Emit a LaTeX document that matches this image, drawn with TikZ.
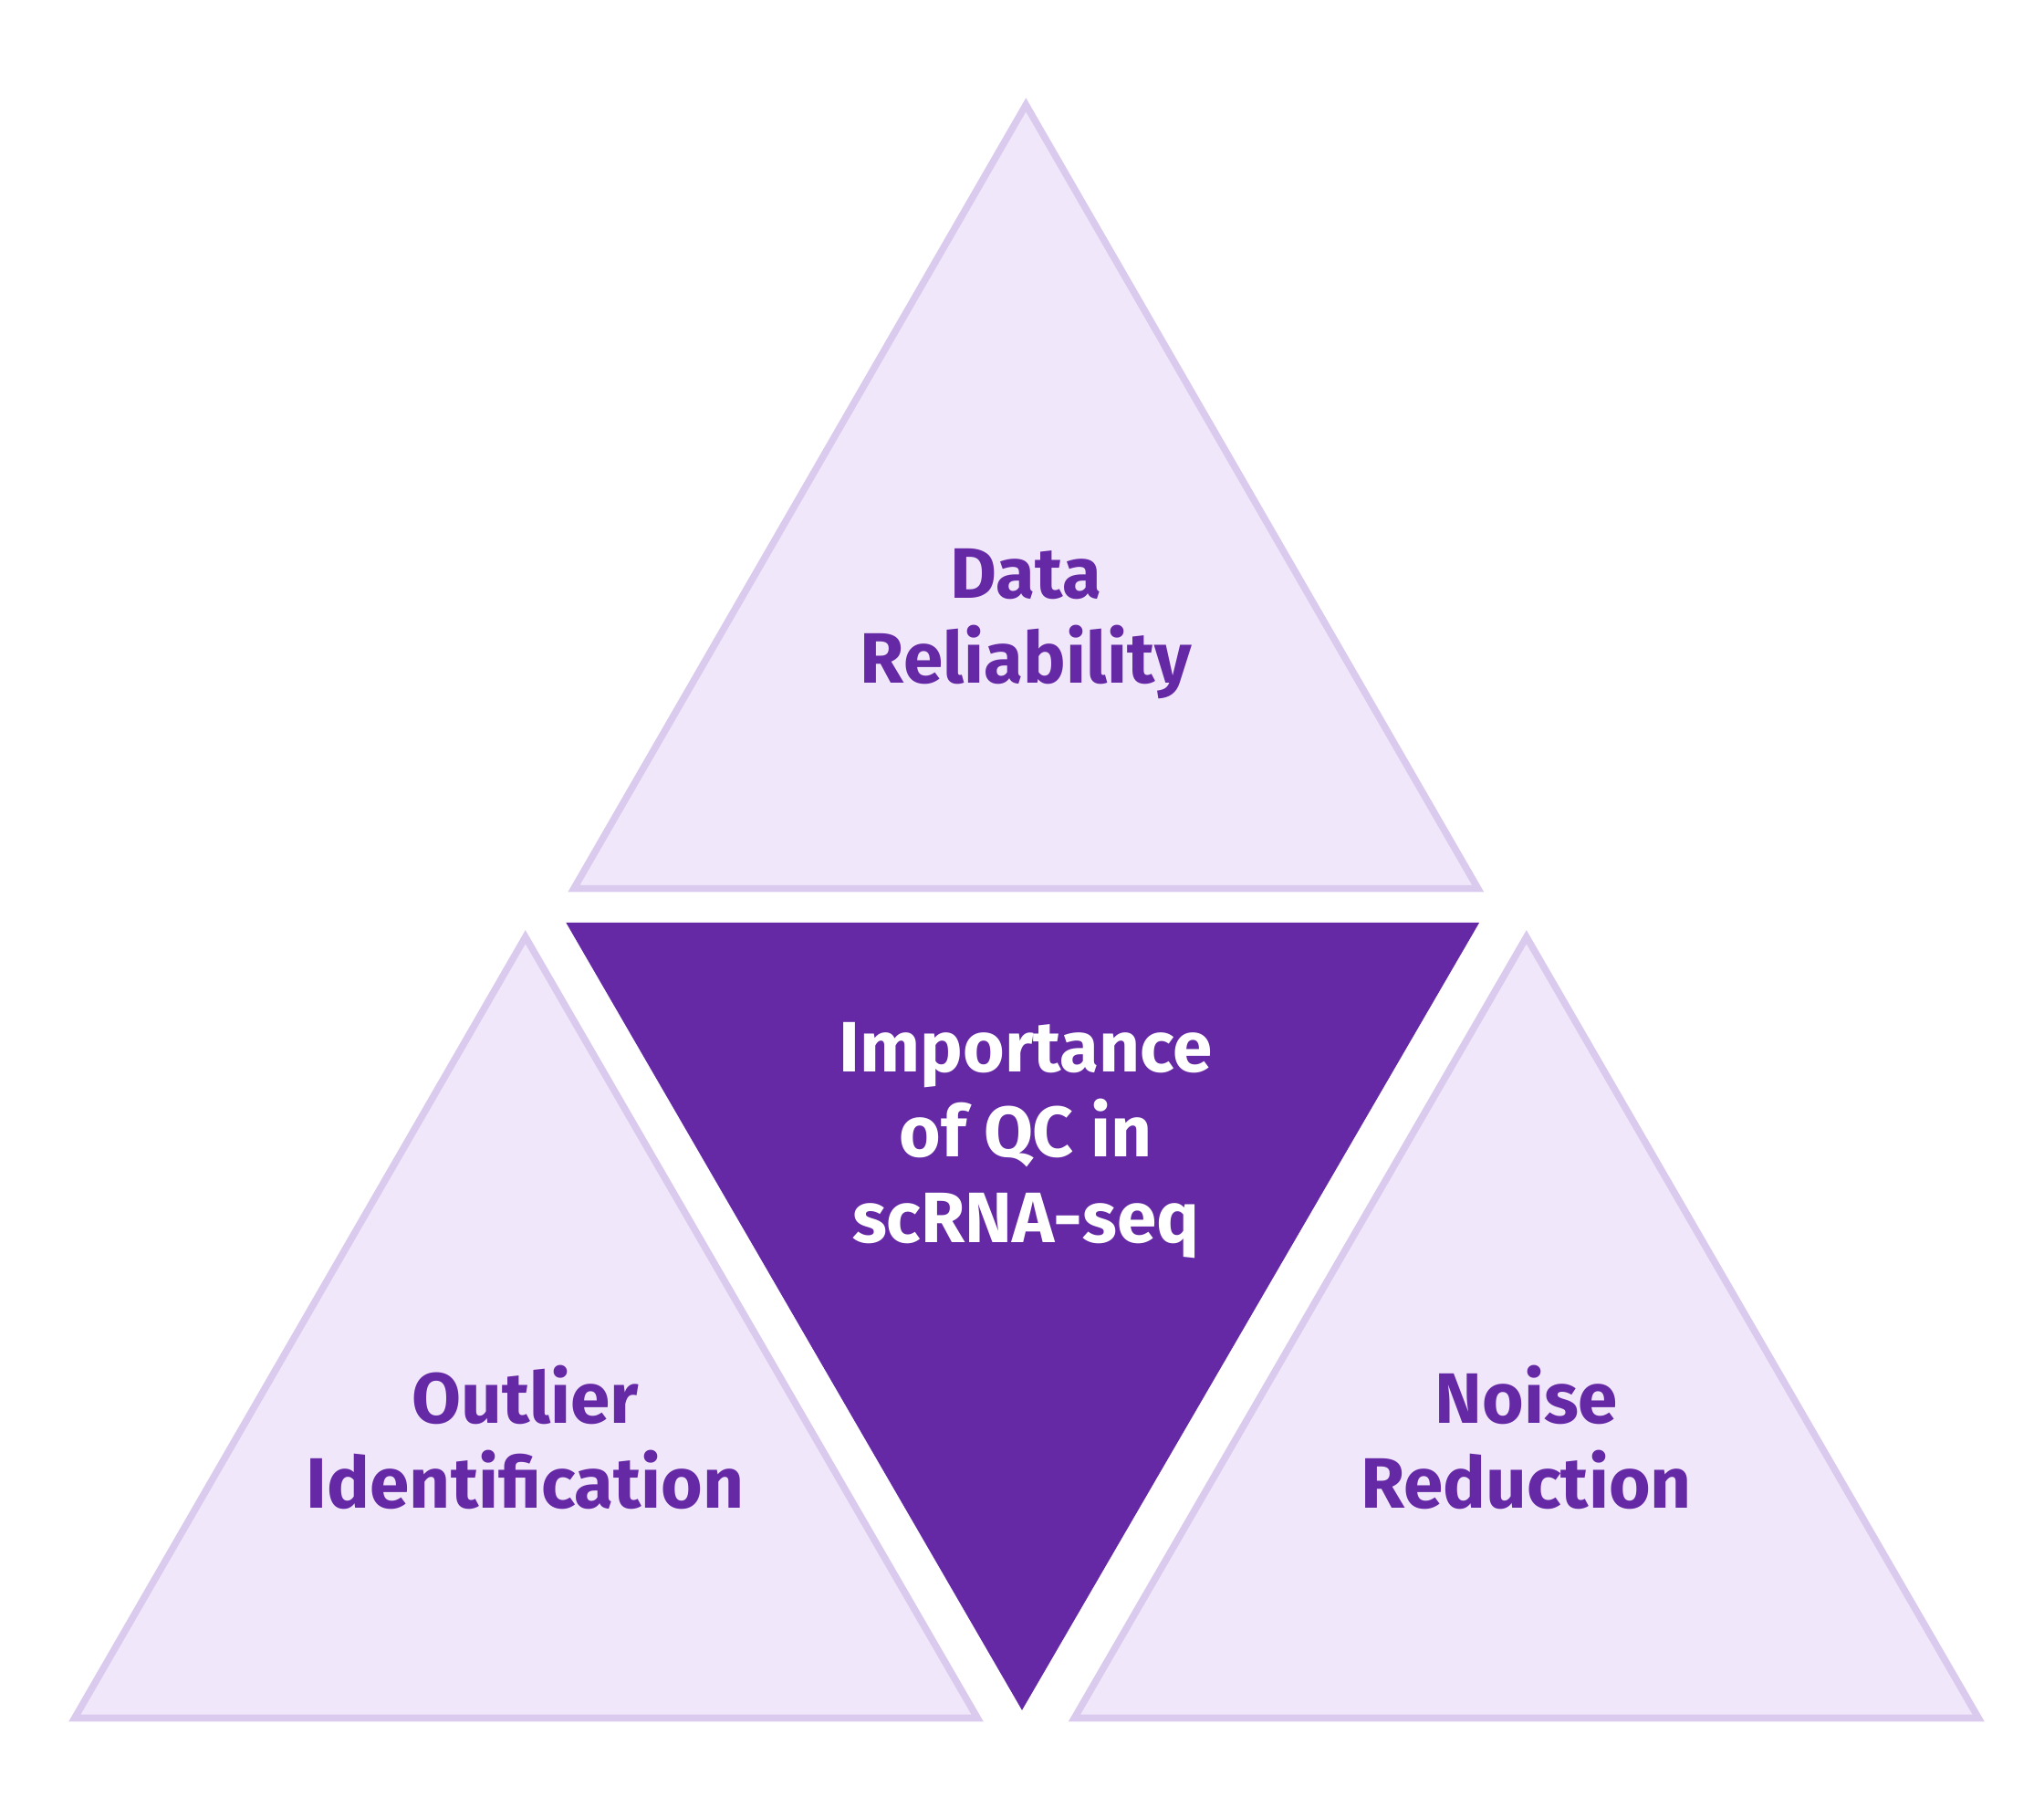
\documentclass[tikz,border=0pt]{standalone}
\usepackage{fontspec}
\setmainfont{Fira Sans}
\definecolor{lightfill}{HTML}{F0E7FB}
\definecolor{lightline}{HTML}{DACBEE}
\definecolor{deeppurple}{HTML}{6629A5}
\tikzset{
  side/.style={fill=lightfill,draw=lightline,line width=3pt,line join=miter},
  core/.style={fill=deeppurple,draw=none},
  label/.style={align=center,font=\fontsize{31}{37}\selectfont\bfseries,text=deeppurple},
}
\begin{document}
\begin{tikzpicture}
[x=0.02cm,y=-0.02cm]
\useasboundingbox (0,0) rectangle (1560,1387);
% corners
\coordinate (ta) at (783,80);
\coordinate (tl) at (438,678);
\coordinate (tr) at (1128,678);
\coordinate (cl) at (432,704);
\coordinate (cr) at (1129,704);
\coordinate (cb) at (780,1305);
\coordinate (la) at (401,715);
\coordinate (ll) at (57,1311);
\coordinate (lr) at (746,1311);
\coordinate (ra) at (1165,715);
\coordinate (rl) at (820,1311);
\coordinate (rr) at (1510,1311);
% triangles
\draw[side] (ta) -- (tl) -- (tr) -- cycle;
\fill[core] (cl) -- (cr) -- (cb) -- cycle;
\draw[side] (la) -- (ll) -- (lr) -- cycle;
\draw[side] (ra) -- (rl) -- (rr) -- cycle;
% texts
\node[label] (data) at (783,476) {Data\\Reliability};
\node[label,text=white] (qc) at (783,870) {Importance\\of QC in\\scRNA-seq};
\node[label] (outlier) at (401,1097) {Outlier\\Identification};
\node[label] (noise) at (1165,1097) {Noise\\Reduction};
\end{tikzpicture}
\end{document}
